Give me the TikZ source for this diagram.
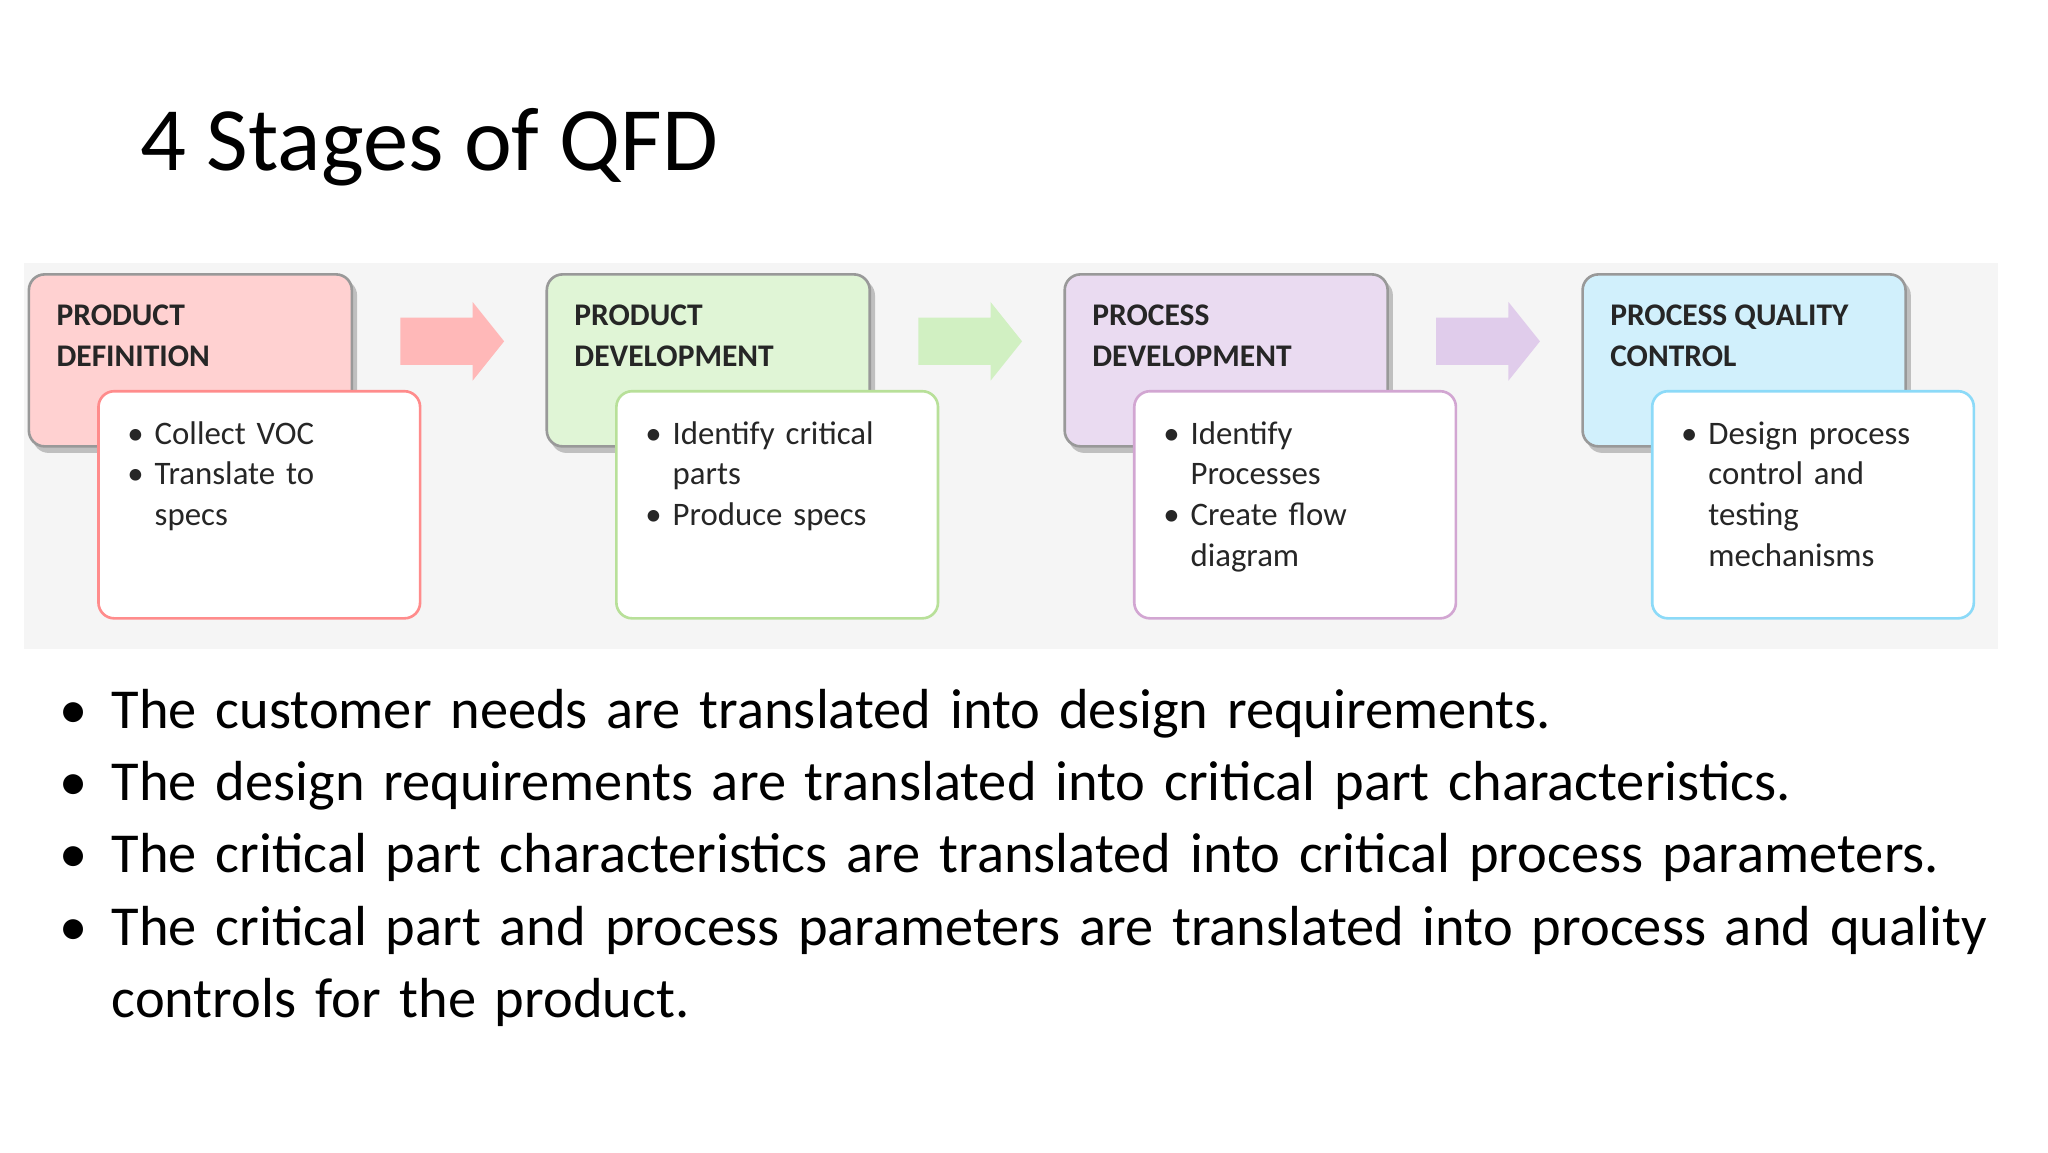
\documentclass[tikz,border=0pt]{standalone}
\usepackage{fontspec}
\setmainfont{Carlito}
\begin{document}
\begin{tikzpicture}[x=0.5pt,y=-0.5pt,
  top/.style={draw=gray!80,line width=1pt,rounded corners=6pt,inner sep=0pt},
  bot/.style={fill=white,line width=1pt,rounded corners=6pt},
  hd/.style={anchor=north west,font=\bfseries\fontsize{12}{15.5}\selectfont,align=left,text=black!85},
  bl/.style={anchor=north west,font=\fontsize{12.5}{15.5}\selectfont,align=left,text width=95pt,text=black!85}]
\useasboundingbox (0,0) rectangle (1560,878);
\fill[white] (0,0) rectangle (1560,878);
\node[anchor=west,font=\fontsize{34.5}{38}\selectfont] (title) at (100,112) {4 Stages of QFD};
\fill[black!4] (18,200) rectangle (1522,494);
\foreach \i/\c/\d/\t/\b in {0/red!18/red!45/{PRODUCT\\DEFINITION}/{\textbullet\ Collect VOC\\\textbullet\ Translate to\\\phantom{\textbullet\ }specs},
  1/green!50!olive!16/green!40!olive!40/{PRODUCT\\DEVELOPMENT}/{\textbullet\ Identify critical\\\phantom{\textbullet\ }parts\\\textbullet\ Produce specs},
  2/blue!60!red!14/blue!50!red!35/{PROCESS\\DEVELOPMENT}/{\textbullet\ Identify\\\phantom{\textbullet\ }Processes\\\textbullet\ Create flow\\\phantom{\textbullet\ }diagram},
  3/cyan!18/cyan!45/{PROCESS QUALITY\\CONTROL}/{\textbullet\ Design process\\\phantom{\textbullet\ }control and\\\phantom{\textbullet\ }testing\\\phantom{\textbullet\ }mechanisms}}{
  \pgfmathsetmacro{\ox}{394.5*\i}
  \fill[black!25,rounded corners=6pt] (\ox+25,213) rectangle (\ox+272,345);
  \draw[top,fill=\c] (\ox+22,209) rectangle (\ox+268,340);
  \node[hd] (h\i) at (\ox+36,225) {\t};
  \draw[bot,draw=\d] (\ox+75,298) rectangle (\ox+320,471);
  \node[bl] (b\i) at (\ox+90,314) {\b};
}
\foreach \i/\c in {0/red!28,1/green!50!olive!24,2/blue!60!red!20}{
  \pgfmathsetmacro{\ox}{394.5*\i}
  \fill[\c] (\ox+305,242) -- (\ox+360,242) -- (\ox+360,230) -- (\ox+384,260) -- (\ox+360,290) -- (\ox+360,278) -- (\ox+305,278) -- cycle;
}
\node[anchor=north west,font=\fontsize{21.5}{27.5}\selectfont,align=left,text width=780pt] (txt) at (38,518) {%
\makebox[20pt][l]{\textbullet}The customer needs are translated into design requirements.\\
\makebox[20pt][l]{\textbullet}The design requirements are translated into critical part characteristics.\\
\makebox[20pt][l]{\textbullet}The critical part characteristics are translated into critical process parameters.\\
\makebox[20pt][l]{\textbullet}The critical part and process parameters are translated into process and quality\\
\hspace*{20pt}controls for the product.};
\end{tikzpicture}
\end{document}
